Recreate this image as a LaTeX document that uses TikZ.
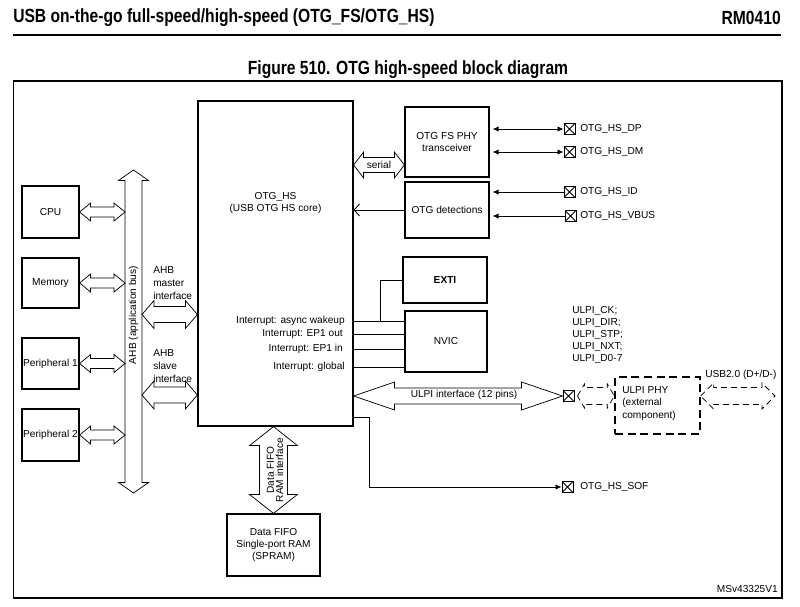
\documentclass[tikz,border=0pt]{standalone}
\usepackage{fontspec}
\setmainfont{Liberation Sans}
\usetikzlibrary{arrows.meta,calc}
\newcommand\hdrfont{\fontsize{14.3pt}{16pt}\selectfont\bfseries}
% horizontal fat double arrow: [style]{left tip}{right tip}{head length}{head half-height}{shaft half-height}
\newcommand\hfat[6][]{%
 \draw[fat,#1] let \p1=(#2), \p2=(#3) in
 (\x1,\y1) -- ({\x1+#4*0.75pt},{\y1+#5*0.75pt}) -- ({\x1+#4*0.75pt},{\y1+#6*0.75pt})
 -- ({\x2-#4*0.75pt},{\y1+#6*0.75pt}) -- ({\x2-#4*0.75pt},{\y1+#5*0.75pt}) -- (\x2,\y1)
 -- ({\x2-#4*0.75pt},{\y1-#5*0.75pt}) -- ({\x2-#4*0.75pt},{\y1-#6*0.75pt})
 -- ({\x1+#4*0.75pt},{\y1-#6*0.75pt}) -- ({\x1+#4*0.75pt},{\y1-#5*0.75pt}) -- cycle;}
% vertical fat double arrow: [style]{top tip}{bottom tip}{head length}{head half-width}{shaft half-width}
\newcommand\vfat[6][]{%
 \draw[fat,#1] let \p1=(#2), \p2=(#3) in
 (\x1,\y1) -- ({\x1+#5*0.75pt},{\y1-#4*0.75pt}) -- ({\x1+#6*0.75pt},{\y1-#4*0.75pt})
 -- ({\x1+#6*0.75pt},{\y2+#4*0.75pt}) -- ({\x1+#5*0.75pt},{\y2+#4*0.75pt}) -- (\x1,\y2)
 -- ({\x1-#5*0.75pt},{\y2+#4*0.75pt}) -- ({\x1-#6*0.75pt},{\y2+#4*0.75pt})
 -- ({\x1-#6*0.75pt},{\y1-#4*0.75pt}) -- ({\x1-#5*0.75pt},{\y1-#4*0.75pt}) -- cycle;}
\begin{document}
\begin{tikzpicture}[x=0.75pt,y=-0.75pt,
 font=\fontsize{7.6pt}{9pt}\selectfont,
 box/.style={draw,line width=0.9pt,inner sep=0pt,align=center},
 wh/.style 2 args={minimum width=#1*0.75pt,minimum height=#2*0.75pt},
 fat/.style={draw,line width=0.55pt,line join=miter},
 dfat/.style={dash pattern=on 4.5pt off 3pt},
 sig/.style={line width=0.65pt},
 lbl/.style={inner sep=0pt},
 pin/.style={draw,line width=0.7pt,minimum size=8.3pt,inner sep=0pt,
   path picture={\draw[line width=0.55pt] (path picture bounding box.north west) -- (path picture bounding box.south east)
   (path picture bounding box.south west) -- (path picture bounding box.north east);}},
 ftip/.style={-{Latex[length=4.5pt,width=4pt]}},
 bftip/.style={{Latex[length=4.5pt,width=4pt]}-{Latex[length=4.5pt,width=4pt]}}
 ]
\useasboundingbox (0,0) rectangle (800,607);

% header
\node[lbl,anchor=west,font=\hdrfont] (hdr) at (13,18) {\scalebox{0.82}[1]{USB on-the-go full-speed/high-speed (OTG\_FS/OTG\_HS)}};
\node[lbl,anchor=east,font=\hdrfont] (rm) at (781,18) {\scalebox{0.82}[1]{RM0410}};
\draw[line width=0.8pt] (13,35) -- (781,35);
\node[lbl,font=\hdrfont] (title) at (408,70) {\scalebox{0.82}[1]{Figure 510. OTG high-speed block diagram}};
\draw[line width=0.8pt] (13.5,81) rectangle (782,598);

% boxes
\node[box,wh={155}{325}] (otg) at (275.5,263.5) {};
\node[lbl,align=center] (otgtxt) at (275.5,203.5) {OTG\_HS\\(USB OTG HS core)};
\node[box,wh={84}{70}] (fsphy) at (447,142) {OTG FS PHY\\transceiver};
\node[box,wh={84}{56}] (det) at (447,210) {OTG detections};
\node[box,wh={57}{52}] (cpu) at (50.5,212) {CPU};
\node[box,wh={57}{50}] (mem) at (50.5,283) {Memory};
\node[box,wh={57}{51}] (p1) at (50.5,363.5) {Peripheral 1};
\node[box,wh={57}{52}] (p2) at (50.5,435) {Peripheral 2};
\node[box,wh={84}{46},font=\fontsize{7.6pt}{9pt}\selectfont\bfseries] (exti) at (445,280) {EXTI};
\node[box,wh={82}{61}] (nvic) at (446,341.5) {NVIC};
\node[box,wh={85}{57},dash pattern=on 6pt off 3.5pt,line width=1pt] (ulpiphy) at (657.5,405.5) {};
\node[lbl,anchor=west,align=left,font=\fontsize{7.6pt}{9.3pt}\selectfont] (ulpiphytxt) at (622,403.5) {ULPI PHY\\(external\\component)};
\node[box,wh={93}{62}] (fifo) at (273.5,545) {Data FIFO\\Single-port RAM\\(SPRAM)};

% pins
\node[pin] (dp) at (569.5,129) {};
\node[pin] (dm) at (569.5,152) {};
\node[pin] (id) at (569.5,192) {};
\node[pin] (vbus) at (570.5,216) {};
\node[pin] (ulpipin) at (568.5,396) {};
\node[pin] (sof) at (567.5,487) {};
\node[lbl,anchor=west] (dpl) at (580,129) {OTG\_HS\_DP};
\node[lbl,anchor=west] (dml) at (580,152) {OTG\_HS\_DM};
\node[lbl,anchor=west] (idl) at (580,192) {OTG\_HS\_ID};
\node[lbl,anchor=west] (vbusl) at (580,216) {OTG\_HS\_VBUS};
\node[lbl,anchor=west] (sofl) at (580,487) {OTG\_HS\_SOF};

% AHB bus
\coordinate (bustop) at (133.5,170);
\coordinate (busbot) at (133.5,493);
\coordinate (busW) at (125,300);
\coordinate (busE) at (142,300);
\vfat{bustop}{busbot}{10.5}{15}{8.5}
\node[lbl,rotate=90] (ahb) at (133.5,315) {AHB (application bus)};

% bus arrows to masters/slaves
\hfat{cpu.east}{cpu.east -| busW}{11}{9}{5}
\hfat{mem.east}{mem.east -| busW}{11}{9}{5}
\hfat{p1.east}{p1.east -| busW}{11}{9}{5}
\hfat{p2.east}{p2.east -| busW}{11}{9}{5}
\coordinate (mst) at (170,314.5);
\coordinate (slv) at (170,395);
\hfat{busE |- mst}{otg.west |- mst}{12}{14}{8}
\hfat{busE |- slv}{otg.west |- slv}{12}{14}{8}
\node[lbl,anchor=west,align=left,font=\fontsize{7.6pt}{9.75pt}\selectfont] (mstl) at (153,283) {AHB\\master\\interface};
\node[lbl,anchor=west,align=left,font=\fontsize{7.6pt}{9.75pt}\selectfont] (slvl) at (153,366) {AHB\\slave\\interface};

% serial
\coordinate (ser) at (380,165);
\hfat{otg.east |- ser}{fsphy.west |- ser}{10}{13}{7.5}
\node[lbl] (serl) at (379,165) {serial};

% detections to core
\draw[sig,-{Straight Barb[length=4pt,width=9pt]}] (det.west) -- (otg.east |- det.west);

% pins to PHY / detections
\draw[sig,bftip] ($(fsphy.east |- dp)+(3,0)$) -- (dp.west);
\draw[sig,bftip] ($(fsphy.east |- dm)+(3,0)$) -- (dm.west);
\draw[sig,ftip] (id.west) -- ($(det.east |- id)+(3,0)$);
\draw[sig,ftip] (vbus.west) -- ($(det.east |- vbus)+(3,0)$);

% interrupts
\node[lbl,anchor=east] (i1) at (345,321) {Interrupt: async wakeup};
\node[lbl,anchor=east] (i2) at (343,334) {Interrupt: EP1 out};
\node[lbl,anchor=east] (i3) at (343,349) {Interrupt: EP1 in};
\node[lbl,anchor=east] (i4) at (345,367) {Interrupt: global};
\draw[sig] (otg.east |- i1) -- (nvic.west |- i1);
\draw[sig] (otg.east |- i2) -- (nvic.west |- i2);
\draw[sig] (otg.east |- i3) -- (nvic.west |- i3);
\draw[sig] (otg.east |- i4) -- (nvic.west |- i4);
\coordinate (jx) at (380,321);
\draw[sig] (jx |- i1) |- (exti.west);

% ULPI
\hfat{otg.east |- ulpipin.west}{ulpipin.west}{41}{14}{8}
\node[lbl] (ulpil) at (464,395) {ULPI interface (12 pins)};
\hfat[dfat]{$(ulpipin.east)+(3,0)$}{ulpiphy.west |- ulpipin.east}{7}{12}{8.5}
\coordinate (usbend) at (775,396);
\hfat[dfat]{ulpiphy.east |- usbend}{usbend}{13}{13}{8.5}
\node[lbl,anchor=south west] (usbl) at (705,380) {USB2.0 (D+/D-)};
\node[lbl,anchor=west,align=left,font=\fontsize{7.6pt}{9pt}\selectfont] (ulpisig) at (572,335) {ULPI\_CK;\\ULPI\_DIR;\\ULPI\_STP;\\ULPI\_NXT;\\ULPI\_D0-7};

% SOF
\coordinate (sofb) at (369,417);
\draw[sig,ftip] (otg.east |- sofb) -- (sofb) |- (sof.west);

% Data FIFO interface
\vfat{fifo.north |- otg.south}{fifo.north}{19}{24}{14}
\node[lbl,rotate=90,align=center,font=\fontsize{7.6pt}{7pt}\selectfont] (fifol) at (275,470) {Data FIFO\\RAM interface};

\node[lbl,anchor=east] (ref) at (778,589) {MSv43325V1};
\end{tikzpicture}
\end{document}
